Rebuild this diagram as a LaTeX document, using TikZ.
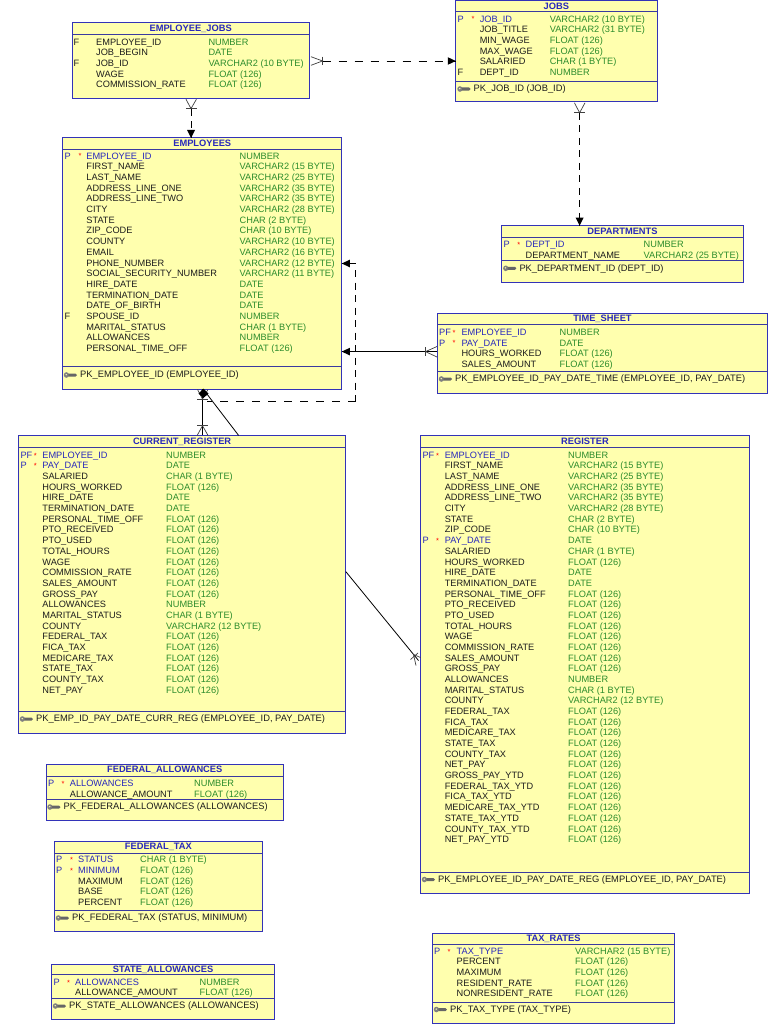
\documentclass[tikz,border=0pt]{standalone}
\usepackage{fontspec}
\setmainfont{Liberation Sans}
\definecolor{tblfill}{HTML}{FFFFAE}
\definecolor{tblline}{HTML}{3333B8}
\definecolor{pkblue}{HTML}{2828BC}
\definecolor{typegreen}{HTML}{2C8C2C}
\definecolor{namedark}{HTML}{1C1C1C}
\definecolor{sepgrey}{HTML}{3A3AA0}
\tikzset{
  tbl/.style={draw=tblline,fill=tblfill,line width=1pt,inner sep=0pt,outer sep=0pt,anchor=north west},
  sepln/.style={draw=sepgrey,line width=0.8pt},
  ttl/.style={font=\fontsize{9.3}{10}\selectfont\bfseries,text=pkblue,inner sep=0pt},
  txt/.style={font=\fontsize{9.22}{10}\selectfont,inner sep=0pt,anchor=base west},
  pktxt/.style={font=\fontsize{9.35}{10}\selectfont,inner sep=0pt,anchor=base west,text=namedark},
  colname/.style={txt,text=namedark},
  colpk/.style={txt,text=pkblue},
  coltype/.style={txt,text=typegreen},
  colflagf/.style={txt,text=namedark},
  colflagp/.style={txt,text=pkblue},
  colstar/.style={font=\fontsize{7.5}{8}\selectfont,inner sep=0pt,anchor=base west,text=red},
  conn/.style={black,line width=0.8pt},
  dashh/.style={conn,dash pattern=on 8pt off 8pt},
  dashv/.style={conn,dash pattern=on 7pt off 5.5pt},
  tipfill/.style={fill=black,draw=none},
  crow/.style={black!75,line width=0.7pt},
}
\newcounter{rowc}
\newcommand{\tablebox}[8]{%
  \node[tbl,minimum width={(#4-#2)*1pt},minimum height={(#5-#3)*1pt}] (#1) at (#2,#3) {};
  \draw[sepln] (#2,#6) -- (#4,#6);
  \node[ttl] (#1title) at ({(#2+#4)/2},{(#3+#6)/2+0.2}) {#8};
  \ifx\relax#7\relax\else\draw[sepln] (#2,#7) -- (#4,#7);\fi
}
% columns: flag x, star x, name x, type x, first y
\newcommand{\tcols}[5]{\def\xf{#1}\def\xs{#2}\def\xn{#3}\def\xt{#4}\def\cury{#5}}
\newcommand{\advrow}{\stepcounter{rowc}\pgfmathsetmacro{\cury}{\cury+\rowstep}\global\let\cury\cury}
\def\rowstep{10.68}
\newcommand{\rowN}[2]{%
  \node[colname] (n\therowc) at (\xn,\cury+3.2) {#1};
  \node[coltype] (t\therowc) at (\xt,\cury+3.2) {#2};
  \advrow}
\newcommand{\rowF}[2]{%
  \node[colflagf] (f\therowc) at (\xf,\cury+3.2) {F};
  \rowN{#1}{#2}}
\newcommand{\rowP}[3][P]{%
  \node[colflagp] (f\therowc) at (\xf,\cury+3.2) {#1};
  \node[colstar] (s\therowc) at (\xs,\cury+3.0) {*};
  \node[colpk] (n\therowc) at (\xn,\cury+3.2) {#2};
  \node[coltype] (t\therowc) at (\xt,\cury+3.2) {#3};
  \advrow}
% key icon and PK text
\newcommand{\pkline}[4]{%
  \begin{scope}[shift={(#1,#2)}]
    \fill[black!50,even odd rule] (2.4,0) ellipse [x radius=2.6,y radius=2.8] (2.2,-0.4) ellipse [x radius=1.1,y radius=0.9];
    \fill[black!60] (4.4,-1.5) -- (11.5,-1.5) -- (13,0) -- (11.5,1.7) -- (4.4,1.5) -- cycle;
  \end{scope}
  \node[pktxt] (#4) at (#1+16,#2+2.8) {#3};
}
\begin{document}
\begin{tikzpicture}[x=1pt,y=-1pt]
\useasboundingbox (0,0) rectangle (768,1024);
\fill[white] (0,0) rectangle (768,1024);

% EMPLOYEE_JOBS
\tablebox{ej}{72}{23}{309.3}{98.6}{34.4}{}{EMPLOYEE\_JOBS}
\tcols{73.5}{0}{96}{208.3}{42}
\rowF{EMPLOYEE\_ID}{NUMBER}
\rowN{JOB\_BEGIN}{DATE}
\rowF{JOB\_ID}{VARCHAR2 (10 BYTE)}
\rowN{WAGE}{FLOAT (126)}
\rowN{COMMISSION\_RATE}{FLOAT (126)}

% JOBS
\tablebox{jobs}{455.8}{0.4}{657}{102}{11.3}{81}{JOBS}
\tcols{457.5}{471.3}{479.6}{549.6}{19}
\rowP{JOB\_ID}{VARCHAR2 (10 BYTE)}
\rowN{JOB\_TITLE}{VARCHAR2 (31 BYTE)}
\rowN{MIN\_WAGE}{FLOAT (126)}
\rowN{MAX\_WAGE}{FLOAT (126)}
\rowN{SALARIED}{CHAR (1 BYTE)}
\rowF{DEPT\_ID}{NUMBER}
\pkline{457.5}{89}{PK\_JOB\_ID (JOB\_ID)}{pkjobs}

% DEPARTMENTS
\tablebox{dept}{501.7}{225.7}{743.3}{282}{237}{260.3}{DEPARTMENTS}
\tcols{503.5}{517.2}{525.5}{643.5}{244.6}
\rowP{DEPT\_ID}{NUMBER}
\rowN{DEPARTMENT\_NAME}{VARCHAR2 (25 BYTE)}
\pkline{503.3}{268.3}{PK\_DEPARTMENT\_ID (DEPT\_ID)}{pkdept}

% EMPLOYEES
\tablebox{emp}{62.7}{138}{341.8}{389}{149}{366.8}{EMPLOYEES}
\tcols{64.5}{78.5}{86.2}{239.5}{156}
\rowP{EMPLOYEE\_ID}{NUMBER}
\rowN{FIRST\_NAME}{VARCHAR2 (15 BYTE)}
\rowN{LAST\_NAME}{VARCHAR2 (25 BYTE)}
\rowN{ADDRESS\_LINE\_ONE}{VARCHAR2 (35 BYTE)}
\rowN{ADDRESS\_LINE\_TWO}{VARCHAR2 (35 BYTE)}
\rowN{CITY}{VARCHAR2 (28 BYTE)}
\rowN{STATE}{CHAR (2 BYTE)}
\rowN{ZIP\_CODE}{CHAR (10 BYTE)}
\rowN{COUNTY}{VARCHAR2 (10 BYTE)}
\rowN{EMAIL}{VARCHAR2 (16 BYTE)}
\rowN{PHONE\_NUMBER}{VARCHAR2 (12 BYTE)}
\rowN{SOCIAL\_SECURITY\_NUMBER}{VARCHAR2 (11 BYTE)}
\rowN{HIRE\_DATE}{DATE}
\rowN{TERMINATION\_DATE}{DATE}
\rowN{DATE\_OF\_BIRTH}{DATE}
\rowF{SPOUSE\_ID}{NUMBER}
\rowN{MARITAL\_STATUS}{CHAR (1 BYTE)}
\rowN{ALLOWANCES}{NUMBER}
\rowN{PERSONAL\_TIME\_OFF}{FLOAT (126)}
\pkline{64}{375}{PK\_EMPLOYEE\_ID (EMPLOYEE\_ID)}{pkemp}

% TIME_SHEET
\tablebox{ts}{437.4}{313.3}{767.5}{393}{324.7}{371.3}{TIME\_SHEET}
\tcols{439}{452.3}{461.3}{559.5}{332.3}
\rowP[PF]{EMPLOYEE\_ID}{NUMBER}
\rowP{PAY\_DATE}{DATE}
\rowN{HOURS\_WORKED}{FLOAT (126)}
\rowN{SALES\_AMOUNT}{FLOAT (126)}
\pkline{439}{379}{PK\_EMPLOYEE\_ID\_PAY\_DATE\_TIME (EMPLOYEE\_ID, PAY\_DATE)}{pkts}

% CURRENT_REGISTER
\tablebox{cr}{18.4}{435.7}{345.8}{733}{447}{711.7}{CURRENT\_REGISTER}
\tcols{20.3}{33.7}{42.2}{166}{455}
\rowP[PF]{EMPLOYEE\_ID}{NUMBER}
\rowP{PAY\_DATE}{DATE}
\rowN{SALARIED}{CHAR (1 BYTE)}
\rowN{HOURS\_WORKED}{FLOAT (126)}
\rowN{HIRE\_DATE}{DATE}
\rowN{TERMINATION\_DATE}{DATE}
\rowN{PERSONAL\_TIME\_OFF}{FLOAT (126)}
\rowN{PTO\_RECEIVED}{FLOAT (126)}
\rowN{PTO\_USED}{FLOAT (126)}
\rowN{TOTAL\_HOURS}{FLOAT (126)}
\rowN{WAGE}{FLOAT (126)}
\rowN{COMMISSION\_RATE}{FLOAT (126)}
\rowN{SALES\_AMOUNT}{FLOAT (126)}
\rowN{GROSS\_PAY}{FLOAT (126)}
\rowN{ALLOWANCES}{NUMBER}
\rowN{MARITAL\_STATUS}{CHAR (1 BYTE)}
\rowN{COUNTY}{VARCHAR2 (12 BYTE)}
\rowN{FEDERAL\_TAX}{FLOAT (126)}
\rowN{FICA\_TAX}{FLOAT (126)}
\rowN{MEDICARE\_TAX}{FLOAT (126)}
\rowN{STATE\_TAX}{FLOAT (126)}
\rowN{COUNTY\_TAX}{FLOAT (126)}
\rowN{NET\_PAY}{FLOAT (126)}
\pkline{20}{719}{PK\_EMP\_ID\_PAY\_DATE\_CURR\_REG (EMPLOYEE\_ID, PAY\_DATE)}{pkcr}

% REGISTER
\tablebox{reg}{420.6}{435.6}{749.4}{893}{447}{872}{REGISTER}
\tcols{422.3}{436}{444.6}{568}{455}
\rowP[PF]{EMPLOYEE\_ID}{NUMBER}
\rowN{FIRST\_NAME}{VARCHAR2 (15 BYTE)}
\rowN{LAST\_NAME}{VARCHAR2 (25 BYTE)}
\rowN{ADDRESS\_LINE\_ONE}{VARCHAR2 (35 BYTE)}
\rowN{ADDRESS\_LINE\_TWO}{VARCHAR2 (35 BYTE)}
\rowN{CITY}{VARCHAR2 (28 BYTE)}
\rowN{STATE}{CHAR (2 BYTE)}
\rowN{ZIP\_CODE}{CHAR (10 BYTE)}
\rowP{PAY\_DATE}{DATE}
\rowN{SALARIED}{CHAR (1 BYTE)}
\rowN{HOURS\_WORKED}{FLOAT (126)}
\rowN{HIRE\_DATE}{DATE}
\rowN{TERMINATION\_DATE}{DATE}
\rowN{PERSONAL\_TIME\_OFF}{FLOAT (126)}
\rowN{PTO\_RECEIVED}{FLOAT (126)}
\rowN{PTO\_USED}{FLOAT (126)}
\rowN{TOTAL\_HOURS}{FLOAT (126)}
\rowN{WAGE}{FLOAT (126)}
\rowN{COMMISSION\_RATE}{FLOAT (126)}
\rowN{SALES\_AMOUNT}{FLOAT (126)}
\rowN{GROSS\_PAY}{FLOAT (126)}
\rowN{ALLOWANCES}{NUMBER}
\rowN{MARITAL\_STATUS}{CHAR (1 BYTE)}
\rowN{COUNTY}{VARCHAR2 (12 BYTE)}
\rowN{FEDERAL\_TAX}{FLOAT (126)}
\rowN{FICA\_TAX}{FLOAT (126)}
\rowN{MEDICARE\_TAX}{FLOAT (126)}
\rowN{STATE\_TAX}{FLOAT (126)}
\rowN{COUNTY\_TAX}{FLOAT (126)}
\rowN{NET\_PAY}{FLOAT (126)}
\rowN{GROSS\_PAY\_YTD}{FLOAT (126)}
\rowN{FEDERAL\_TAX\_YTD}{FLOAT (126)}
\rowN{FICA\_TAX\_YTD}{FLOAT (126)}
\rowN{MEDICARE\_TAX\_YTD}{FLOAT (126)}
\rowN{STATE\_TAX\_YTD}{FLOAT (126)}
\rowN{COUNTY\_TAX\_YTD}{FLOAT (126)}
\rowN{NET\_PAY\_YTD}{FLOAT (126)}
\pkline{422}{879.5}{PK\_EMPLOYEE\_ID\_PAY\_DATE\_REG (EMPLOYEE\_ID, PAY\_DATE)}{pkreg}

% FEDERAL_ALLOWANCES
\tablebox{fa}{46}{764}{283.5}{820.7}{776}{799.3}{FEDERAL\_ALLOWANCES}
\tcols{48}{61.3}{69.7}{194}{783.3}
\rowP{ALLOWANCES}{NUMBER}
\rowN{ALLOWANCE\_AMOUNT}{FLOAT (126)}
\pkline{47.5}{807}{PK\_FEDERAL\_ALLOWANCES (ALLOWANCES)}{pkfa}

% FEDERAL_TAX
\tablebox{ft}{54.4}{841}{262.4}{931.7}{853}{910.3}{FEDERAL\_TAX}
\tcols{56}{70}{78}{140}{859.5}
\rowP{STATUS}{CHAR (1 BYTE)}
\rowP{MINIMUM}{FLOAT (126)}
\rowN{MAXIMUM}{FLOAT (126)}
\rowN{BASE}{FLOAT (126)}
\rowN{PERCENT}{FLOAT (126)}
\pkline{56}{918}{PK\_FEDERAL\_TAX (STATUS, MINIMUM)}{pkft}

% STATE_ALLOWANCES
\tablebox{sa}{51.7}{964}{274.4}{1019}{974.7}{998.7}{STATE\_ALLOWANCES}
\tcols{53.5}{67}{75}{199.5}{982}
\rowP{ALLOWANCES}{NUMBER}
\rowN{ALLOWANCE\_AMOUNT}{FLOAT (126)}
\pkline{53}{1006}{PK\_STATE\_ALLOWANCES (ALLOWANCES)}{pksa}

% TAX_RATES
\tablebox{tr}{432.6}{933}{674.4}{1023}{944}{1002}{TAX\_RATES}
\tcols{434}{447.3}{456.5}{575}{951}
\rowP{TAX\_TYPE}{VARCHAR2 (15 BYTE)}
\rowN{PERCENT}{FLOAT (126)}
\rowN{MAXIMUM}{FLOAT (126)}
\rowN{RESIDENT\_RATE}{FLOAT (126)}
\rowN{NONRESIDENT\_RATE}{FLOAT (126)}
\pkline{434}{1009.5}{PK\_TAX\_TYPE (TAX\_TYPE)}{pktr}

% Connector: EMPLOYEE_JOBS -- JOBS
\coordinate (a1) at (322.5,61);
\coordinate (a2) at (jobs.west |- a1);
\draw[crow] (311,56.7) -- (a1) -- (311,65.3);
\draw[crow] (322.5,56.7) -- (322.5,65.3);
\draw[dashh] (a1) -- (a2);
\fill[tipfill] (a2) -- ++(-8,-3.8) -- ++(0,7.6) -- cycle;

% Connector: EMPLOYEE_JOBS -- EMPLOYEES
\coordinate (b1) at (191,108.6);
\coordinate (b2) at (b1 |- emp.north);
\draw[crow] (186,99.3) -- (b1) -- (196.4,99.3);
\draw[crow] (185.8,108.6) -- (196.6,108.6);
\draw[dashv] (b1) -- (b2);
\fill[tipfill] (b2) -- ++(-4,-8) -- ++(8,0) -- cycle;

% Connector: JOBS -- DEPARTMENTS
\coordinate (c1) at (579.6,112.8);
\coordinate (c2) at (c1 |- dept.north);
\draw[crow] (574.4,102.8) -- (c1) -- (585,102.8);
\draw[crow] (574.2,112.8) -- (585.2,112.8);
\draw[dashv] (c1) -- (c2);
\fill[tipfill] (c2) -- ++(-4,-8) -- ++(8,0) -- cycle;

% Connector: TIME_SHEET -- EMPLOYEES
\coordinate (d1) at (ts.west |- 0,351.6);
\coordinate (d2) at (emp.east |- d1);
\draw[conn] (d1) -- (d2);
\draw[crow] (437,346.5) -- (425.5,351.6) -- (437,357);
\draw[crow] (425.3,347) -- (425.3,356.3);
\fill[tipfill] (d2) -- ++(8,-3.8) -- ++(0,7.6) -- cycle;

% Connector: EMPLOYEES self / dashed
\coordinate (e1) at (emp.east |- 0,263.5);
\coordinate (e2) at (355.8,263.5);
\coordinate (e3) at (355.8,401.3);
\coordinate (e4) at (207,401.3);
\draw[conn] (e1) -- ++(14,0);
\draw[dashv] (355.8,270) -- (e3);
\draw[dashh] (e3) -- (e4);
\fill[tipfill] (e1) -- ++(8,-3.8) -- ++(0,7.6) -- cycle;

% Connector: CURRENT_REGISTER -- EMPLOYEES (solid)
\coordinate (f1) at (202.5,389.4);
\coordinate (f2) at (202.5,435.4);
\draw[conn] (f1) -- (f2);
\draw[crow] (197.3,399) -- (208,399);
\draw[crow] (197,425.7) -- (208,425.7);
\draw[crow] (202.5,425.7) -- (197.2,435.4);
\draw[crow] (202.5,425.7) -- (208,435.4);
\draw[crow] (197.5,389.4) -- (202.5,399) -- (208,389.4);
\fill[tipfill] (203.3,388.6) -- (208.6,393.6) -- (203.3,398) -- (198.5,393.6) -- cycle;
\coordinate (g1) at (238.6,435.4);
\draw[conn] (205,391.5) -- (g1);

% Connector: CURRENT_REGISTER -- REGISTER
\coordinate (h1) at (cr.east |- 0,571.6);
\coordinate (h2) at (reg.west |- 0,663.4);
\draw[conn] (h1) -- (418.5,660.5);
\draw[crow] (410.5,659.5) -- (418,653);
\draw[crow] (413.5,654.5) -- (420.5,657.5);
\draw[crow] (413.5,654.5) -- (416,665.5);
\end{tikzpicture}
\end{document}
